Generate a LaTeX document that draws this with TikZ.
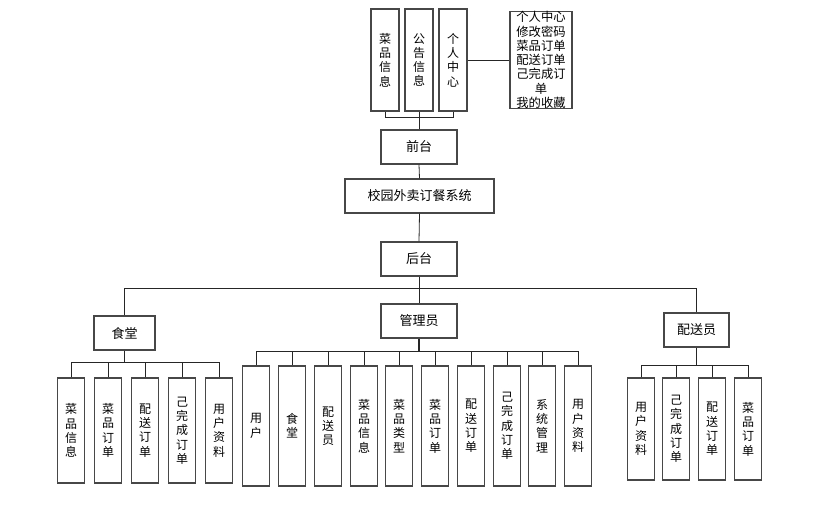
\documentclass[tikz,border=0pt]{standalone}
\usepackage{fontspec}
\setmainfont{Noto Sans CJK SC}
\begin{document}
\begin{tikzpicture}[x=1pt,y=-1pt,
  box/.style={draw=black!72,line width=1.1pt,fill=white,inner sep=0pt,align=center},
  hbox/.style={box,minimum width=76pt,minimum height=34pt,font=\fontsize{13}{15}\selectfont},
  vbox/.style={box,minimum width=27pt,font=\fontsize{12}{14.3}\selectfont},
  conn/.style={draw=black!85,line width=0.8pt}]
\useasboundingbox (0,0) rectangle (840,505);
% top
\node[vbox,minimum width=28pt,minimum height=102pt] (t1) at (385,60) {菜\\品\\信\\息};
\node[vbox,minimum width=28pt,minimum height=102pt] (t2) at (419,60) {公\\告\\信\\息};
\node[vbox,minimum width=28pt,minimum height=102pt] (t3) at (453,60) {个\\人\\中\\心};
\node[box,minimum width=62pt,minimum height=96pt,font=\fontsize{12.3}{14.3}\selectfont] (big) at (541,60) {个人中心\\修改密码\\菜品订单\\配送订单\\己完成订\\单\\我的收藏};
\node[hbox] (qt) at (419,147) {前台};
\node[hbox,minimum width=149pt] (sys) at (419.5,196) {校园外卖订餐系统};
\node[hbox] (ht) at (419,259) {后台};
\node[hbox] (gly) at (419,321) {管理员};
\node[hbox,minimum width=61pt] (st) at (124.5,333) {食堂};
\node[hbox,minimum width=65pt] (psy) at (696.5,330) {配送员};
% canteen children
\foreach \x/\t [count=\i] in {71/菜\\品\\信\\息,108/菜\\品\\订\\单,145/配\\送\\订\\单,182/己\\完\\成\\订\\单,219/用\\户\\资\\料}
  \node[vbox,minimum height=105pt] (s\i) at (\x,430.5) {\t};
% admin children
\foreach \x/\t [count=\i] in {256/用\\户,292/食\\堂,328/配\\送\\员,364/菜\\品\\信\\息,399/菜\\品\\类\\型,435/菜\\品\\订\\单,471/配\\送\\订\\单,507/己\\完\\成\\订\\单,542/系\\统\\管\\理,578/用\\户\\资\\料}
  \node[vbox,minimum height=120pt] (a\i) at (\x,426) {\t};
% courier children
\foreach \x/\t [count=\i] in {641/用\\户\\资\\料,676/己\\完\\成\\订\\单,712/配\\送\\订\\单,748/菜\\品\\订\\单}
  \node[vbox,minimum height=102pt] (p\i) at (\x,429) {\t};
% coordinates for buses
\coordinate (topbus) at (0,117);
\coordinate (mainbus) at (0,288);
\coordinate (sbus) at (0,362);
\coordinate (abus) at (0,351);
\coordinate (pbus) at (0,365);
% top connectors
\draw[conn] (t1.south) -- (t1.south |- topbus) -- (t3.south |- topbus) -- (t3.south);
\draw[conn] (t2.south) -- (qt.north);
\draw[conn] (t3.east) -- (big.west);
\draw[conn] (qt.south) -- (sys.north);
\draw[conn] (sys.south) -- (ht.north);
\draw[conn] (ht.south) -- (gly.north);
\draw[conn] (st.north |- mainbus) -- (psy.north |- mainbus);
\draw[conn] (st.north) -- (st.north |- mainbus);
\draw[conn] (psy.north) -- (psy.north |- mainbus);
% canteen
\draw[conn,line width=1.2pt] (st.south) -- (st.south |- sbus);
\draw[conn] (s1.north |- sbus) -- (s5.north |- sbus);
\foreach \i in {1,...,5} \draw[conn] (s\i.north) -- (s\i.north |- sbus);
% admin
\draw[conn,line width=1.2pt] (gly.south) -- (gly.south |- abus);
\draw[conn] (a1.north |- abus) -- (a10.north |- abus);
\foreach \i in {1,...,10} \draw[conn] (a\i.north) -- (a\i.north |- abus);
% courier
\draw[conn,line width=1.2pt] (psy.south) -- (psy.south |- pbus);
\draw[conn] (p1.north |- pbus) -- (p4.north |- pbus);
\foreach \i in {1,...,4} \draw[conn] (p\i.north) -- (p\i.north |- pbus);
\end{tikzpicture}
\end{document}
